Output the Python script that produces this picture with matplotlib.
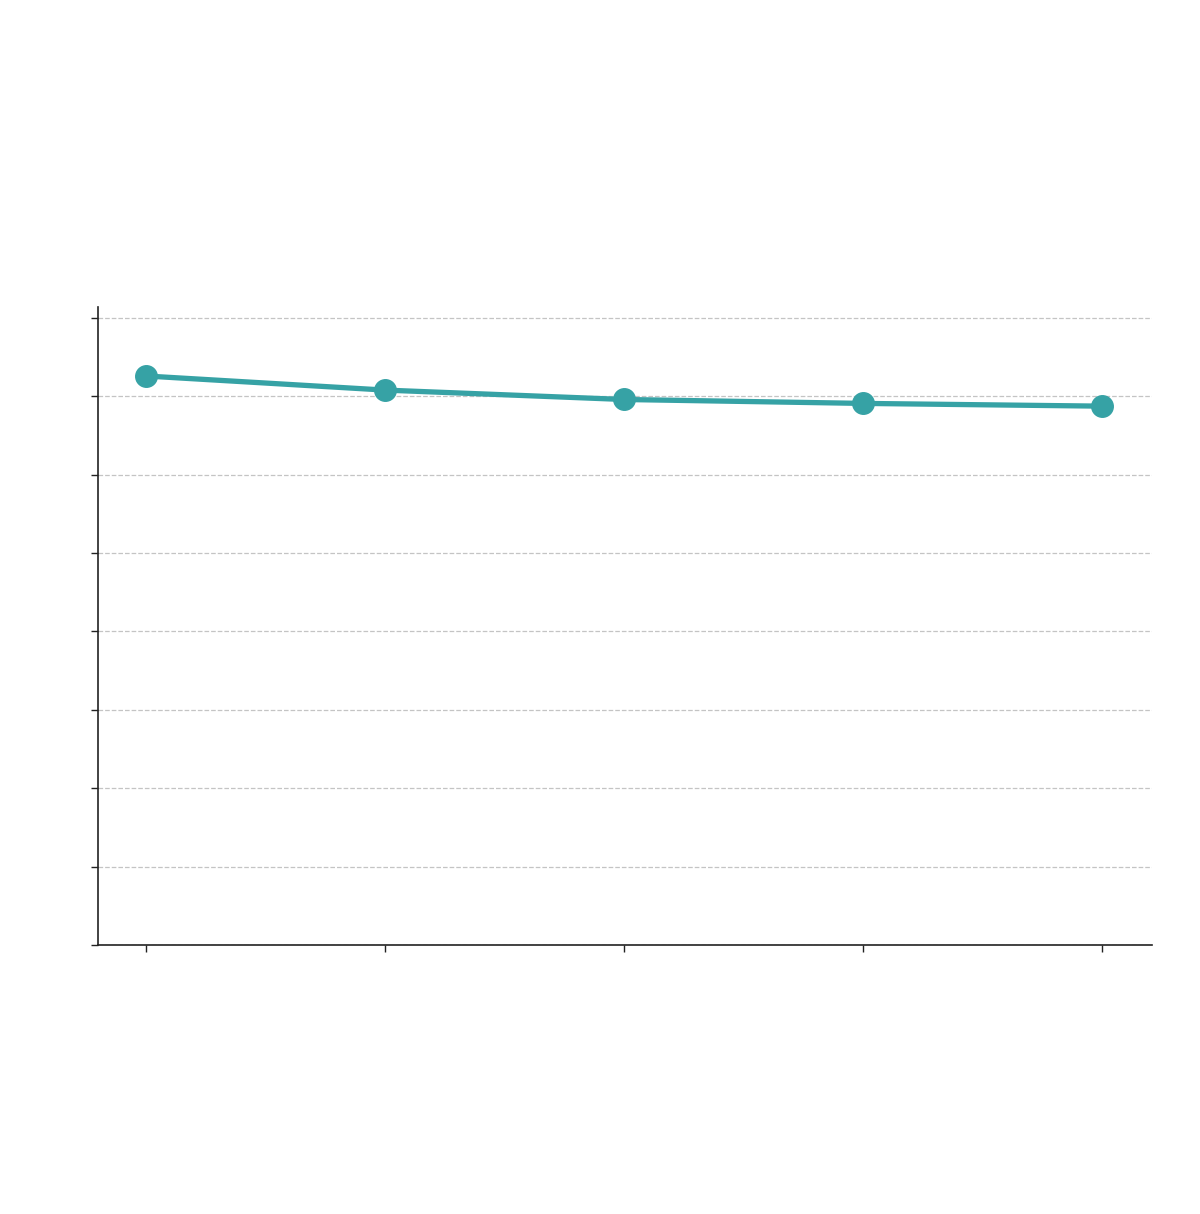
import matplotlib
matplotlib.use("Agg")
import matplotlib.pyplot as plt

x_pos = [0, 1, 2, 3, 4]
values = [7.26, 7.08, 6.96, 6.91, 6.875]
y_ticks = [0, 1, 2, 3, 4, 5, 6, 7, 8]

fig = plt.figure(figsize=(12, 12.14), dpi=100)
ax = fig.add_axes([98/1200, 1 - 945/1214, (1152-98)/1200, (945-307)/1214])

ax.plot(x_pos, values, color="#36a2a5", linewidth=3.8, marker="o",
        markersize=15.5, zorder=3)

ax.set_xlim(-0.2, 4.21)
ax.set_ylim(0, 8.14)
ax.set_xticks(x_pos)
ax.set_yticks(y_ticks)
ax.set_xticklabels([])
ax.set_yticklabels([])
ax.tick_params(direction="out", length=5, width=1, color="#222222")
ax.grid(axis="y", linestyle="--", color="#c4c4c4", linewidth=0.9)
ax.set_axisbelow(True)
for s in ["top", "right"]:
    ax.spines[s].set_visible(False)
for s in ["left", "bottom"]:
    ax.spines[s].set_color("#222222")
    ax.spines[s].set_linewidth(1.2)

fig.savefig("out.png", dpi=100, facecolor="white")
